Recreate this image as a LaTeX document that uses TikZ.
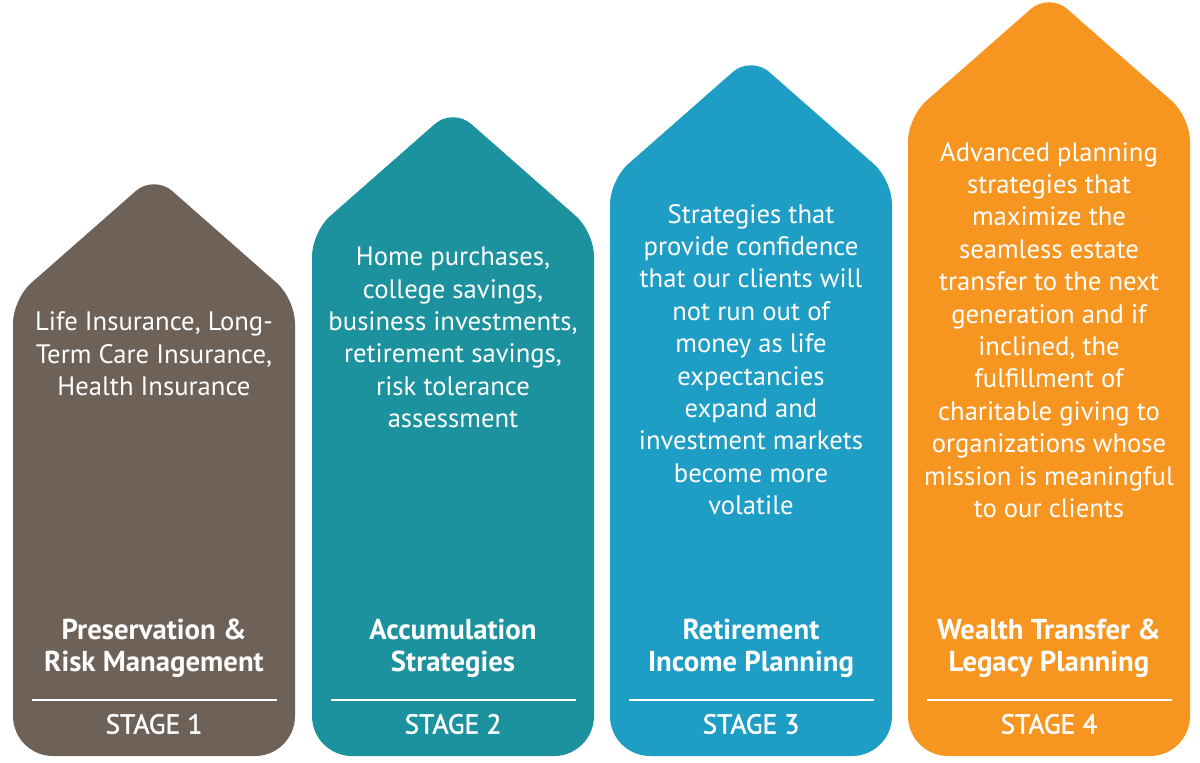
\documentclass[tikz,border=0pt]{standalone}
\usepackage{fontspec}
\setmainfont{PT Sans}
\newfontfamily\stagefont[FakeBold=1.6]{PT Sans}
\usepackage{tikz}
\usetikzlibrary{positioning}

\definecolor{stonebrown}{HTML}{6D6158}
\definecolor{tealgreen}{HTML}{1C929E}
\definecolor{skyblue}{HTML}{1E9DC5}
\definecolor{sunorange}{HTML}{F6951F}

\tikzset{
  bodytext/.style={text=white,align=center,font=\fontsize{20}{24.3}\selectfont},
  headtext/.style={text=white,align=center,font=\bfseries\fontsize{21.6}{24}\selectfont},
  stagetext/.style={text=white,font=\stagefont\fontsize{20.5}{24}\selectfont},
  stagerule/.style={draw=white,line width=1.7pt},
}

% house shape: centre x, apex y, colour
\newcommand{\stagehouse}[3]{%
  \fill[#3] (#1,756) [rounded corners=30] -- (#1-141,756) [rounded corners=18]
    -- (#1-141,#2+112) -- (#1,#2-12) -- (#1+141,#2+112) [rounded corners=30]
    -- (#1+141,756) -- cycle;}

\begin{document}
\begin{tikzpicture}[x=0.75pt,y=0.75pt,yscale=-1,xscale=1]
\path[use as bounding box] (0,0) rectangle (1200,763);

%Shapes
\stagehouse{154}{187}{stonebrown}
\stagehouse{453}{120}{tealgreen}
\stagehouse{751}{68}{skyblue}
\stagehouse{1049}{5}{sunorange}

%Rules
\coordinate (ruleAl) at (32,700); \coordinate (ruleAr) at (277,700);
\coordinate (ruleBl) at (331,700); \coordinate (ruleBr) at (576,700);
\coordinate (ruleCl) at (629,700); \coordinate (ruleCr) at (874,700);
\coordinate (ruleDl) at (927,700); \coordinate (ruleDr) at (1172,700);
\draw[stagerule] (ruleAl) -- (ruleAr);
\draw[stagerule] (ruleBl) -- (ruleBr);
\draw[stagerule] (ruleCl) -- (ruleCr);
\draw[stagerule] (ruleDl) -- (ruleDr);

% Text Node
\draw (154,354) node (descA) [bodytext] {Life Insurance, Long-\\Term Care Insurance,\\Health Insurance};
% Text Node
\draw (453,337.5) node (descB) [bodytext] {Home purchases,\\college savings,\\business investments,\\retirement savings,\\risk tolerance\\assessment};
% Text Node
\draw (751,359.5) node (descC) [bodytext] {Strategies that\\provide confidence\\that our clients will\\not run out of\\money as life\\expectancies\\expand and\\investment markets\\become more\\volatile};
% Text Node
\draw (1049,330) node (descD) [bodytext] {Advanced planning\\strategies that\\maximize the\\seamless estate\\transfer to the next\\generation and if\\inclined, the\\fulfillment of\\charitable giving to\\organizations whose\\mission is meaningful\\to our clients};

% Text Node
\draw (154,648) node (headA) [headtext] {Preservation \&\\Risk Management};
% Text Node
\draw (453,648) node (headB) [headtext] {Accumulation\\Strategies};
% Text Node
\draw (751,648) node (headC) [headtext] {Retirement\\Income Planning};
% Text Node
\draw (1049,648) node (headD) [headtext] {Wealth Transfer \&\\Legacy Planning};

% Text Node
\draw (154,724) node (stageA) [stagetext] {STAGE 1};
% Text Node
\draw (453,724) node (stageB) [stagetext] {STAGE 2};
% Text Node
\draw (751,724) node (stageC) [stagetext] {STAGE 3};
% Text Node
\draw (1049,724) node (stageD) [stagetext] {STAGE 4};

\end{tikzpicture}
\end{document}
